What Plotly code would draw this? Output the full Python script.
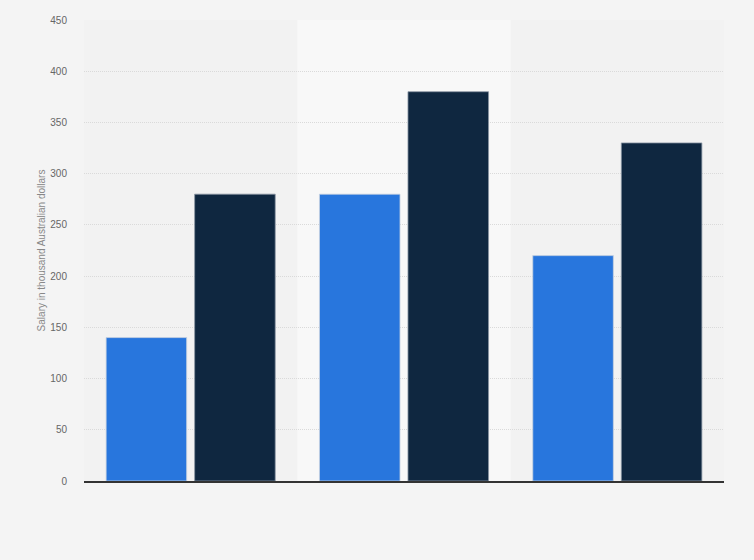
import plotly.graph_objects as go

# three unlabeled categories, two series each
categories = ["A", "B", "C"]
series_1 = [140, 280, 220]
series_2 = [280, 380, 330]
y_ticks = [0, 50, 100, 150, 200, 250, 300, 350, 400, 450]

fig = go.Figure()

fig.add_trace(go.Bar(
    x=categories, y=series_1, name="Series 1",
    marker=dict(color="#2876dd", line=dict(color="#c9d3e0", width=0.8)),
))
fig.add_trace(go.Bar(
    x=categories, y=series_2, name="Series 2",
    marker=dict(color="#0f2740", line=dict(color="#8a95a3", width=0.8)),
))

# lighter band behind the middle category
fig.add_shape(
    type="rect", xref="x", yref="paper",
    x0=0.5, x1=1.5, y0=0, y1=1,
    fillcolor="#f8f8f8", line=dict(width=0), layer="below",
)

fig.update_layout(
    width=754, height=560,
    paper_bgcolor="#f4f4f4",
    plot_bgcolor="#f2f2f2",
    font=dict(family="Liberation Sans, Arial, sans-serif", size=10, color="#666"),
    margin=dict(l=84, r=30, t=20, b=79),
    barmode="group",
    bargap=0.17,
    bargroupgap=0.09,
    showlegend=False,
    xaxis=dict(
        showticklabels=False,
        showgrid=False,
        showline=True, linecolor="#333", linewidth=1.5,
        ticks="",
    ),
    yaxis=dict(
        range=[0, 450],
        tickvals=y_ticks,
        showgrid=True, gridcolor="#dadada", griddash="1px,1px", gridwidth=1,
        zeroline=False,
        ticks="", ticklabelstandoff=16,
        title=dict(text="Salary in thousand Australian dollars",
                   font=dict(size=10, color="#888"), standoff=2),
    ),
)

fig.write_html("out.html", config={"displayModeBar": False},
               post_script="document.body.style.margin='0';")
